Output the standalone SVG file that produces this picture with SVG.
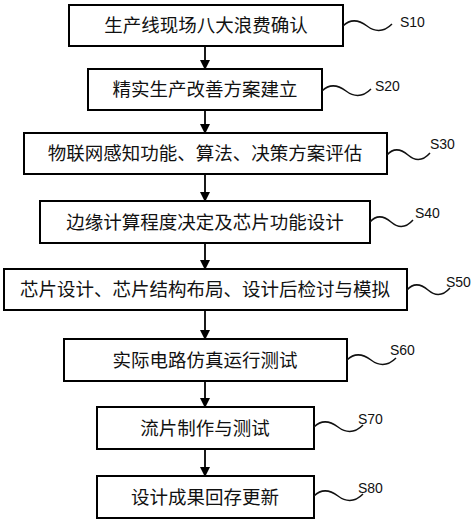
<svg xmlns="http://www.w3.org/2000/svg" width="474" height="522" viewBox="0 0 474 522">
<defs>
<style>
.box{fill:#fff;stroke:#000;stroke-width:2}
.t{font-family:"Noto Sans CJK SC",sans-serif;font-size:18.5px;text-anchor:middle;fill:#111}
.lbl{font-family:"Liberation Sans","DejaVu Sans",sans-serif;font-size:14px;fill:#111}
.w{fill:none;stroke:#111;stroke-width:1.5}
.c{stroke:#000;stroke-width:1.8;fill:none;marker-end:url(#ah)}
</style>
<marker id="ah" markerWidth="10" markerHeight="10" refX="9" refY="5" orient="auto" markerUnits="userSpaceOnUse">
<path d="M0,0 L10,5 L0,10 Z" fill="#000"/>
</marker>
</defs>
<rect width="474" height="522" fill="#fff"/>
<g id="connectors">
<line class="c" x1="205" y1="46" x2="205" y2="69"/>
<line class="c" x1="205" y1="110" x2="205" y2="133"/>
<line class="c" x1="205" y1="174" x2="205" y2="201"/>
<line class="c" x1="205" y1="243" x2="205" y2="269"/>
<line class="c" x1="205" y1="310" x2="205" y2="339"/>
<line class="c" x1="205" y1="381" x2="205" y2="407"/>
<line class="c" x1="205" y1="449" x2="205" y2="476"/>
</g>
<g id="s10">
<rect class="box" x="69" y="5" width="274" height="41"/>
<text class="t" x="206" y="32">生产线现场八大浪费确认</text>
<path class="w" d="M343,26 c8,-8 16,-6 24,0 s16,7 25,-2"/>
<text class="lbl" x="400" y="27">S10</text>
</g>
<g id="s20">
<rect class="box" x="88" y="69" width="234" height="41"/>
<text class="t" x="205" y="96">精实生产改善方案建立</text>
<path class="w" d="M322,91 c8,-8 16,-6 24,0 s16,7 25,-2"/>
<text class="lbl" x="375" y="91">S20</text>
</g>
<g id="s30">
<rect class="box" x="24" y="133" width="363" height="41"/>
<text class="t" x="205" y="160">物联网感知功能、算法、决策方案评估</text>
<path class="w" d="M387,155 c7,-8 14,-6 21,0 s14,7 22,-2"/>
<text class="lbl" x="430" y="149">S30</text>
</g>
<g id="s40">
<rect class="box" x="40" y="201" width="330" height="42"/>
<text class="t" x="205" y="229">边缘计算程度决定及芯片功能设计</text>
<path class="w" d="M370,222 c7,-8 14,-6 21,0 s14,7 22,-2"/>
<text class="lbl" x="415" y="218">S40</text>
</g>
<g id="s50">
<rect class="box" x="4" y="269" width="403" height="41"/>
<text class="t" x="205" y="296">芯片设计、芯片结构布局、设计后检讨与模拟</text>
<path class="w" d="M407,290 c7,-8 14,-6 21,0 s14,7 22,-2"/>
<text class="lbl" x="446" y="287">S50</text>
</g>
<g id="s60">
<rect class="box" x="64" y="339" width="283" height="42"/>
<text class="t" x="205" y="367">实际电路仿真运行测试</text>
<path class="w" d="M347,360 c8,-8 16,-6 24,0 s16,7 25,-2"/>
<text class="lbl" x="390" y="355">S60</text>
</g>
<g id="s70">
<rect class="box" x="97" y="407" width="217" height="42"/>
<text class="t" x="205" y="435">流片制作与测试</text>
<path class="w" d="M314,427 c8,-8 16,-6 24,0 s16,7 25,-2"/>
<text class="lbl" x="358" y="424">S70</text>
</g>
<g id="s80">
<rect class="box" x="97" y="476" width="217" height="42"/>
<text class="t" x="205" y="504">设计成果回存更新</text>
<path class="w" d="M314,496 c8,-8 16,-6 24,0 s16,7 25,-2"/>
<text class="lbl" x="358" y="493">S80</text>
</g>
</svg>
